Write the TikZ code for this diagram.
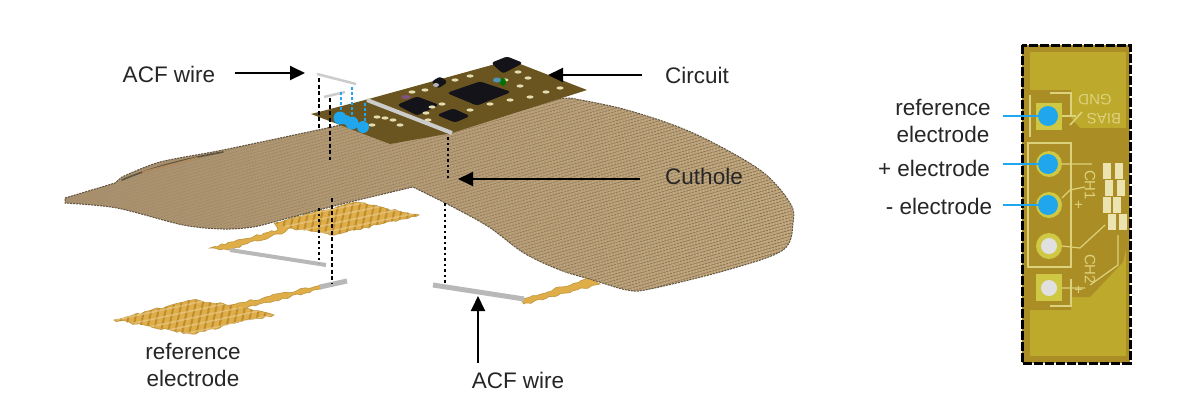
\documentclass[tikz,border=0pt]{standalone}
\usepackage{fontspec}
\setmainfont{Liberation Sans}
\usetikzlibrary{arrows.meta,patterns.meta,decorations.pathmorphing,fadings}
\definecolor{sub}{HTML}{A78F6D}
\definecolor{subR}{HTML}{C0A478}
\definecolor{subD}{HTML}{5E5340}
\definecolor{gold}{HTML}{DFAE48}
\definecolor{goldD}{HTML}{BC8C30}
\definecolor{wiregray}{HTML}{B8B8B8}
\definecolor{pcb}{HTML}{6A5420}
\definecolor{chipc}{HTML}{14131A}
\definecolor{cream}{HTML}{E4DDB0}
\definecolor{bluec}{HTML}{1FA6EC}
\definecolor{board}{HTML}{BDAA2C}
\definecolor{copper}{HTML}{AB8D25}
\definecolor{silk}{HTML}{DDD27C}
\definecolor{padc}{HTML}{CFC844}
\tikzset{
  lab/.style={font=\fontsize{22.5}{27.5}\selectfont,text=black!85,align=center,inner sep=0pt},
  callout/.style={draw=black,line width=2pt,-{Triangle[length=15pt,width=14pt]}},
  bluelead/.style={draw=bluec,line width=2pt},
  dotline/.style={draw=black,line width=2pt,dash pattern=on 2.5pt off 3pt},
  dashline/.style={draw=black,line width=2.6pt,dash pattern=on 4pt off 2.5pt},
  wirebar/.style={draw=wiregray,line width=3.5pt},
  goldfill/.style={fill=gold,draw=gold!85!black,line width=.6pt,decorate,decoration={random steps,segment length=4pt,amplitude=1.2pt}},
  goldtex/.style={pattern={Lines[angle=78,distance=7pt,line width=2pt]},pattern color=goldD},
  goldtexb/.style={pattern={Lines[angle=12,distance=7pt,line width=1.6pt]},pattern color=gold!60!white,opacity=.6},
  weavea/.style={pattern={Lines[angle=16,distance=3pt,line width=.6pt]},pattern color=black!55!sub,path fading=west,opacity=.6},
  weaveb/.style={pattern={Lines[angle=100,distance=3pt,line width=.5pt]},pattern color=subR!60!white,path fading=west,opacity=.5},
  chipshape/.style={fill=chipc,draw=chipc,line width=1pt,rounded corners=2.5pt},
  pad/.style={fill=padc},
  silkline/.style={draw=silk,line width=1.2pt},
  silktext/.style={font=\fontsize{15}{16}\selectfont,text=silk,inner sep=0pt},
}
\begin{document}
\begin{tikzpicture}[x=1pt,y=-1pt]
\useasboundingbox (0,0) rectangle (1200,416);
\fill[white] (0,0) rectangle (1200,416);

% electrodes and traces behind the substrate
\path[goldfill] (274,223) -- (356,202) -- (419,215) -- (335,235) -- (289,228) -- (285,232) -- (228,250) -- (210,248) -- (278,230) -- cycle;
\path[goldtex] (274,223) -- (356,202) -- (419,215) -- (335,235) -- (289,228) -- cycle;
\path[goldtexb] (274,223) -- (356,202) -- (419,215) -- (335,235) -- (289,228) -- cycle;
\path[goldfill] (114,320) -- (192,300) -- (231,305) -- (321,285) -- (321,289) -- (246,308) -- (274,315) -- (239,322) -- (192,334) -- cycle;
\path[goldtex] (114,320) -- (192,300) -- (231,305) -- (274,315) -- (239,322) -- (192,334) -- cycle;
\path[goldtexb] (114,320) -- (192,300) -- (231,305) -- (274,315) -- (239,322) -- (192,334) -- cycle;
\path[goldfill] (521,300) -- (590,278) -- (600,284) -- (524,304) -- cycle;

% ACF wires on the lower level
\draw[wirebar,line width=4pt] (230,250) -- (326,265);
\draw[wirebar,line width=5pt] (320,287) -- (347,281);
\draw[wirebar,line width=5pt] (433,285) -- (524,299);

% substrate
\def\subshape{
  plot[smooth,tension=.45] coordinates {(65,198) (115,183)}
  -- (122,177) -- plot[smooth,tension=.5] coordinates {(122,177) (160,162) (223,150) (327,128) (420,108)}
  -- (570,98)
  -- plot[smooth,tension=.55] coordinates {(570,98) (627,110) (693,133) (760,170) (790,203) (793,223) (783,250) (727,270) (650,289) (627,290) (593,280) (560,270) (524,253) (489,227) (453,207) (413,187)}
  -- plot[smooth,tension=.5] coordinates {(413,187) (346,203) (281,220) (253,227) (223,229) (183,225) (117,208) (65,203)}
  -- cycle}
\path[left color=sub,right color=subR,draw=subD,line width=1pt,dash pattern=on 2pt off 1pt] \subshape;
\path[weavea] \subshape;
\path[weaveb] \subshape;
% ridge on the left
\draw[subD,line width=1.6pt,line cap=round] (122,180) .. controls (150,168) and (180,160) .. (223,152);
\draw[sub!70!brown,line width=2pt,line cap=round] (143,172) -- (197,158);

% circuit board
\fill[pcb] (311,114) -- (365,100) -- (510,60) -- (587,90) -- (452,133) -- (390,144) -- cycle;
\path[chipshape] (448,93) -- (480,82) -- (510,92) -- (477,105) -- cycle;
\path[chipshape] (398,105) -- (417,97) -- (438,105) -- (417,115) -- cycle;
\path[chipshape] (438,115) -- (453,109) -- (469,116) -- (455,122) -- cycle;
\path[chipshape] (492,63) -- (507,57) -- (522,63) -- (503,73) -- cycle;
\path[chipshape] (432,82) -- (440,77) -- (447,82) -- (438,88) -- cycle;
\foreach \sx/\sy in {377/117,385/118,393/120,372/125,426/113,432/107,442/104,470/110,490/104,510/100,530/97,546/92,520/86,528/78,518/72,470/76,455/80,425/90,412/92,505/80,428/120,400/125,560/88}
  \fill[cream] (\sx,\sy) ellipse (3.5pt and 1.6pt);
\fill[green!45!black] (503,82) ellipse (3pt and 4pt);
\fill[bluec!50!gray] (497,80) ellipse (4pt and 2.5pt);
\fill[gray!60] (436,85) ellipse (3pt and 2pt);
\fill[violet!35!gray] (406,97) ellipse (5pt and 2pt);

% ACF wires at the circuit
\draw[wirebar,line width=4pt,draw=black!20] (367,100) -- (452,133);
\draw[wirebar,line width=2.5pt,draw=black!20] (317,74) -- (356,84);
\draw[wirebar,line width=2.5pt,draw=black!20] (324,97) -- (345,92);

% contact points
\fill[bluec] (340,118) circle (6.5pt) (352,123) circle (6.5pt) (363,127) circle (6pt) (346,120) circle (5pt);
\draw[bluec,line width=1.4pt,dash pattern=on 2.5pt off 2.5pt] (341,92) -- (341,112) (352,87) -- (352,118) (365,103) -- (365,122);

% vertical guides
\coordinate (g1t) at (319,78);  \coordinate (g1b) at (319,128);
\coordinate (g1c) at (319,208); \coordinate (g1d) at (319,263);
\coordinate (g2t) at (330,98);  \coordinate (g2b) at (330,160);
\coordinate (g2c) at (332,198); \coordinate (g2d) at (332,283);
\coordinate (g3t) at (448,137); \coordinate (g3b) at (448,180);
\coordinate (g3c) at (445,203); \coordinate (g3d) at (445,285);
\draw[dashline] (g1t) -- (g1b);
\draw[dotline] (g1c) -- (g1d);
\draw[dashline] (g2t) -- (g2b);
\draw[dashline] (g2c) -- (g2d);
\draw[dotline] (g3t) -- (g3b);
\draw[dotline] (g3c) -- (g3d);

% left labels
\node[lab] (acf1) at (169,74) {ACF wire};
\node[lab] (circ) at (697,75) {Circuit};
\node[lab] (cut) at (704,176) {Cuthole};
\node[lab] (refl) at (193,365) {reference\\electrode};
\node[lab] (acf2) at (518,380) {ACF wire};
\coordinate (a1t) at (235,73);
\coordinate (a1) at (305,73);
\coordinate (a2t) at (642,75);
\coordinate (a2) at (548,75);
\coordinate (a3t) at (640,179);
\coordinate (a3) at (458,179);
\coordinate (a4) at (478,296);
\coordinate (a4t) at (478,363);
\draw[callout] (a1t) -- (a1);
\draw[callout] (a2t) -- (a2);
\draw[callout] (a3t) -- (a3);
\draw[callout] (a4t) -- (a4);

% right: electrode board
\fill[board] (1022,45) rectangle (1130,363);
\fill[copper] (1022,45) rectangle (1030,363);
\fill[copper] (1022,356) rectangle (1130,363);
\fill[copper] (1022,45) rectangle (1130,52);
\fill[copper] (1126,45) rectangle (1130,363);
\fill[copper] (1030,90) -- (1071,90) -- (1071,118) -- (1080,128) -- (1128,128) -- (1128,240) -- (1123,262) -- (1090,297) -- (1071,297) -- (1071,310) -- (1030,310) -- cycle;
% silk screen
\draw[silkline] (1028,143) rectangle (1071,267);
\draw[silkline,line width=1.6pt] (1030,95) -- (1030,137);
\draw[silkline] (1050,93) -- (1071,93) -- (1071,115);
\draw[silkline] (1071,279) -- (1071,306) -- (1050,306);
\draw[silkline] (1062,164) -- (1092,164) (1062,198) -- (1070,190) -- (1085,187)
  (1062,246) -- (1080,248) -- (1105,225) (1118,235) -- (1118,265) -- (1090,285) (1062,288) -- (1085,288);
\draw[silkline,line width=1.6pt] (1070,125) -- (1082,112);
\draw[silkline] (1062,116) -- (1076,116);
\node[silktext,rotate=180] (gnd) at (1095,100) {GND};
\node[silktext,rotate=180] (bias) at (1104,119) {BIAS};
\node[silktext,rotate=-90] (ch1) at (1090,185) {CH1};
\node[silktext,rotate=-90] (ch2) at (1090,269) {CH2};
\node[silktext,rotate=-90] (p1) at (1078,205) {+};
\node[silktext,rotate=-90] (p2) at (1078,290) {+};
% smd parts
\foreach \sx/\sy in {1107/171,1119/171,1109/188,1121/188,1107/205,1117/205,1112/222,1123/222}
  \fill[silk!60!white] (\sx-4,\sy-8) rectangle (\sx+4,\sy+8);
% pads
\fill[pad] (1036,103) rectangle (1062,130);
\fill[pad] (1036,274) rectangle (1062,301);
\fill[pad] (1049,164) circle (13pt);
\fill[pad] (1049,205) circle (13pt);
\fill[pad] (1049,246) circle (13pt);
\node[fill=bluec,circle,minimum size=20pt,inner sep=0pt] (p_ref) at (1048,116) {};
\node[fill=bluec,circle,minimum size=20pt,inner sep=0pt] (p_plus) at (1048,164) {};
\node[fill=bluec,circle,minimum size=20pt,inner sep=0pt] (p_minus) at (1048,205) {};
\fill[black!12] (1049,246) circle (8pt);
\fill[black!12] (1049,288) circle (8pt);
\draw[black,line width=3pt,dash pattern=on 9pt off 2pt] (1022,45) rectangle (1130,363);
% right labels
\node[lab] (lref) at (943,121) {reference\\electrode};
\node[lab] (lplus) at (934,168) {+ electrode};
\node[lab] (lminus) at (939,206) {- electrode};
\coordinate (l1) at (1003,116);
\coordinate (l2) at (1003,164);
\coordinate (l3) at (1003,205);
\draw[bluelead] (l1) -- (p_ref);
\draw[bluelead] (l2) -- (p_plus);
\draw[bluelead] (l3) -- (p_minus);
\end{tikzpicture}
\end{document}
